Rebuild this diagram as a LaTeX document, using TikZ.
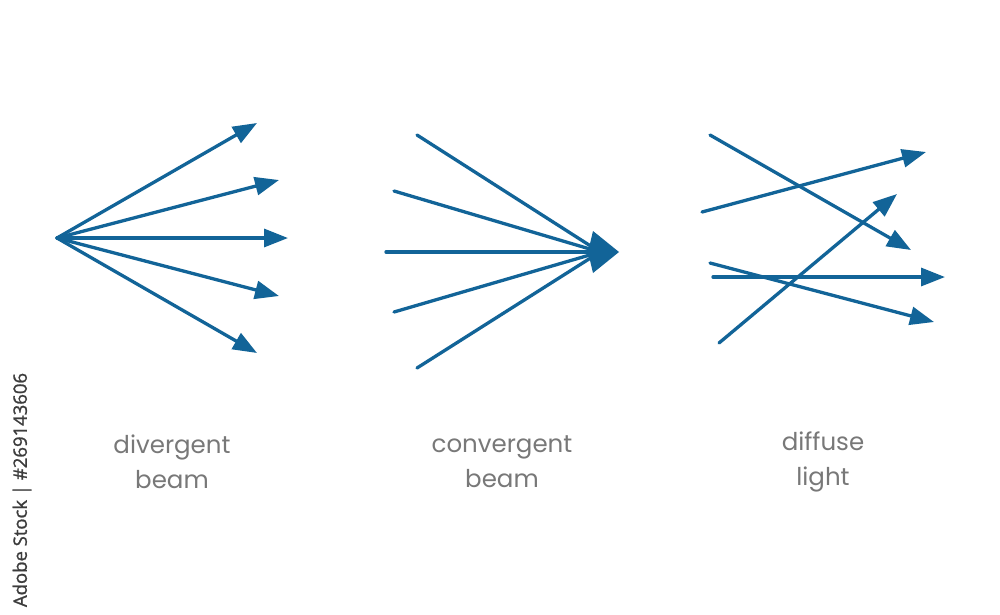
\documentclass[tikz,border=0pt]{standalone}
\usepackage{fontspec}
\setmainfont{Poppins}
\newfontfamily\markfont{Open Sans}[FakeBold=1.2]
\usetikzlibrary{arrows.meta}
\definecolor{beamblue}{RGB}{18,100,152}
\definecolor{labelgray}{RGB}{120,120,120}
\definecolor{markgray}{RGB}{60,60,60}
\tikzset{
  ray/.style={draw=beamblue, line width=3.3pt, line cap=round},
  arrray/.style={ray, -{Triangle[length=24pt,width=18pt]}},
  lbl/.style={text=labelgray, font=\fontsize{24.5}{35}\selectfont, align=center},
}
\begin{document}
\begin{tikzpicture}[x=1pt,y=-1pt]
\useasboundingbox (0,0) rectangle (1000,614);
\fill[white] (0,0) rectangle (1000,614);

% divergent beam
\coordinate (d0) at (57,238);
\coordinate (d1) at (257,123);
\coordinate (d2) at (279,180);
\coordinate (d3) at (288,238);
\coordinate (d4) at (279,296);
\coordinate (d5) at (257,353);
\foreach \i in {1,...,5} \draw[arrray] (d0) -- (d\i);

% convergent beam
\coordinate (cf) at (600,252);
\coordinate (ct) at (619,252);
\coordinate (c1) at (417,135);
\coordinate (c2) at (394,191);
\coordinate (c3) at (386,252);
\coordinate (c4) at (394,312);
\coordinate (c5) at (417,368);
\foreach \i in {1,...,5} \draw[ray] (c\i) -- (cf);
\fill[beamblue] (ct) -- (593,231) -- (588,252) -- (593,273) -- cycle;

% diffuse light
\coordinate (fa1) at (710,135); \coordinate (fa2) at (911,250);
\coordinate (fb1) at (702,212); \coordinate (fb2) at (926,152);
\coordinate (fc1) at (719,343); \coordinate (fc2) at (897,194);
\coordinate (fd1) at (710,263); \coordinate (fd2) at (934,322);
\coordinate (fe1) at (713,277); \coordinate (fe2) at (945,277);
\foreach \s in {a,b,c,d,e} \draw[arrray] (f\s1) -- (f\s2);

% labels
\node[lbl] (ldiv) at (172,462) {divergent\\beam};
\node[lbl] (lcon) at (502,462) {convergent\\beam};
\node[lbl] (ldif) at (823,462) {diffuse\\light};

% stock mark
\node[rotate=90, text=markgray, font=\markfont\fontsize{18.5}{20}\selectfont] (mark) at (22,490) {Adobe Stock | \#269143606};
\end{tikzpicture}
\end{document}
